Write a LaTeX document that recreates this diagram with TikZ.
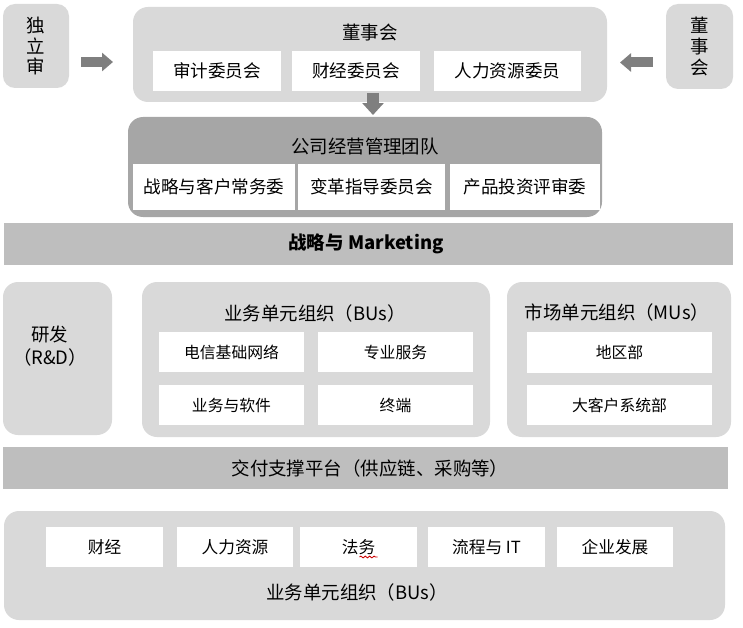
\documentclass[tikz,border=0pt]{standalone}
\usepackage{fontspec}
\setmainfont{Noto Sans CJK SC}
\usetikzlibrary{arrows.meta,calc,decorations.pathmorphing}
\definecolor{boxgray}{HTML}{D9D9D9}
\definecolor{midgray}{HTML}{A6A6A6}
\definecolor{bandgray}{HTML}{BEBEBE}
\definecolor{arrowgray}{HTML}{7F7F7F}
\newcommand{\bx}[7]{\node[#2, minimum width={(#5-#3)*0.02cm}, minimum height={(#6-#4)*0.02cm}] (#1) at ({(#3+#5)/2},{-(#4+#6)/2}) {#7};}
\begin{document}
\begin{tikzpicture}[x=0.02cm,y=0.02cm,
  every node/.style={inner sep=0pt, outer sep=0pt},
  panel/.style={fill=boxgray, rounded corners=0.3cm},
  sidepanel/.style={fill=boxgray, rounded corners=0.24cm, align=center, font=\fontsize{10.5}{11.9}\selectfont},
  darkpanel/.style={fill=midgray, rounded corners=0.3cm},
  band/.style={fill=bandgray},
  cell/.style={fill=white, font=\fontsize{10}{12}\selectfont},
  scell/.style={fill=white, font=\fontsize{9}{11}\selectfont},
  bcell/.style={fill=white, font=\fontsize{9.5}{11}\selectfont},
  titletext/.style={font=\fontsize{10.5}{13}\selectfont},
  bigarrow/.style={draw=arrowgray, line width=0.2cm, -{Triangle[width=0.36cm,length=0.22cm]}},
  downarrow/.style={draw=arrowgray, line width=0.24cm, -{Triangle[width=0.42cm,length=0.24cm]}},
]
\useasboundingbox (0,0) rectangle (743,-628);

% top row
\bx{indep}{sidepanel}{3}{4}{69}{88}{独\\立\\审}
\bx{dong}{sidepanel}{666}{4}{733}{89}{董\\事\\会}
\bx{board}{panel}{133}{7}{607}{102}{}
\node[titletext] (boardtitle) at (370,-33) {董事会};
\bx{audit}{cell}{153}{51}{281}{91}{审计委员会}
\bx{fincom}{cell}{292}{51}{420}{91}{财经委员会}
\bx{hrcom}{cell}{434}{51}{581}{91}{人力资源委员}

% management team
\bx{mgmt}{darkpanel}{128}{117}{602}{217}{}
\node[titletext] (mgmttitle) at (365,-146) {公司经营管理团队};
\bx{strat}{cell}{133}{164}{295}{210}{战略与客户常务委}
\bx{change}{cell}{298}{164}{445}{210}{变革指导委员会}
\bx{invest}{cell}{450}{164}{600}{210}{产品投资评审委}

% arrows
\draw[bigarrow] ($(indep.east)+(12,-16)$) -- ($(indep.east -| board.west)+(-20,-16)$);
\draw[bigarrow] ($(dong.west)+(-13,-16)$) -- ($(dong.west -| board.east)+(13,-16)$);
\draw[downarrow] ($(board.south)+(3,9)$) -- ($(mgmt.north -| board.south)+(3,2)$);

% strategy band
\bx{mkt}{band}{4}{223}{733}{265}{}
\node[font=\fontsize{10.5}{13}\selectfont\bfseries] (mkttext) at (366,-244) {战略与 Marketing};

% middle row
\bx{rd}{panel}{3}{282}{112}{435}{}
\node[titletext, align=center] (rdtext) at (50,-346) {研发\\（R\&D）};
\bx{bu}{panel}{142}{282}{490}{437}{}
\node[titletext] (butitle) at (315,-313) {业务单元组织（BUs）};
\bx{telecom}{scell}{159}{332}{304}{372}{电信基础网络}
\bx{service}{scell}{318}{332}{473}{372}{专业服务}
\bx{software}{scell}{159}{385}{304}{425}{业务与软件}
\bx{device}{scell}{318}{385}{473}{425}{终端}
\bx{mu}{panel}{507}{282}{731}{437}{}
\node[titletext] (mutitle) at (617,-312) {市场单元组织（MUs）};
\bx{region}{scell}{527}{332}{712}{373}{地区部}
\bx{key}{scell}{527}{385}{712}{425}{大客户系统部}

% delivery band
\bx{deliv}{band}{3}{447}{728}{489}{}
\node[titletext] (delivtext) at (370,-468) {交付支撑平台（供应链、采购等）};

% bottom panel
\bx{bottom}{panel}{4}{511}{725}{620}{}
\bx{fin}{bcell}{46}{527}{163}{567}{财经}
\bx{hr}{bcell}{177}{527}{293}{567}{人力资源}
\bx{fawu}{bcell}{300}{527}{417}{567}{法务}
\bx{itp}{bcell}{428}{527}{545}{567}{流程与 IT}
\bx{dev}{bcell}{557}{527}{673}{567}{企业发展}
\node[titletext] (bottomtitle) at (357,-592) {业务单元组织（BUs）};
\draw[red!80!black, line width=0.5pt, decorate, decoration={snake, amplitude=0.5pt, segment length=2.5pt}]
  ($(fawu.center)+(1,-10)$) -- ($(fawu.center)+(19,-10)$);
\end{tikzpicture}
\end{document}
